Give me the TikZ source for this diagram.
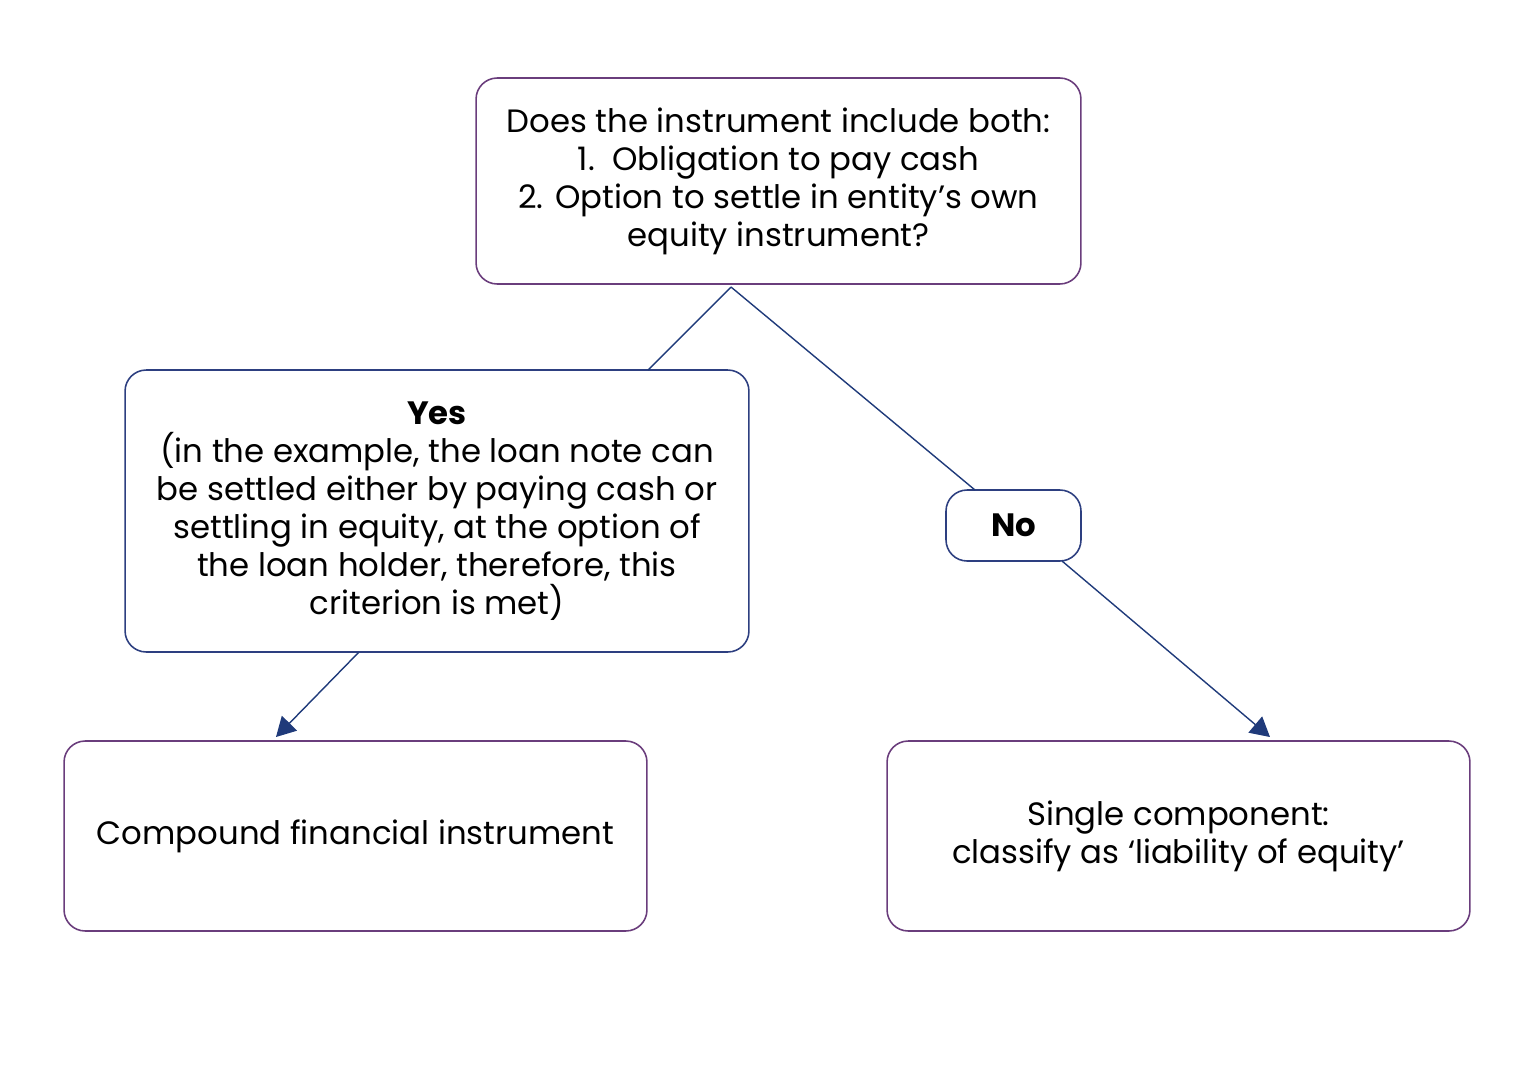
\documentclass[tikz,border=0pt]{standalone}
\usepackage{fontspec}
\setmainfont{Poppins}
\usetikzlibrary{arrows.meta,positioning}
\definecolor{boxpurple}{HTML}{6A3D7C}
\definecolor{boxblue}{HTML}{2D3F80}
\definecolor{arrowblue}{HTML}{1F3A7A}
\tikzset{
    decision/.style={draw=boxpurple, rounded corners=12pt, line width=0.9pt, align=center,
        font=\fontsize{18.4pt}{21.6pt}\selectfont, inner sep=0pt},
    answer/.style={decision, draw=boxblue},
    link/.style={draw=arrowblue, line width=0.8pt},
    flow/.style={link, -{Triangle[length=11pt,width=12pt]}}
}
\begin{document}
\begin{tikzpicture}[x=0.02cm, y=-0.02cm]
    \useasboundingbox (0,0) rectangle (1536,1086);
    \node[decision, minimum width=12.1cm, minimum height=4.12cm] (question) at (778.5,181)
        {Does the instrument include both:\\1.\ \ Obligation to pay cash\\2. Option to settle in entity’s own\\equity instrument?};
    \node[answer, minimum width=12.48cm, minimum height=5.64cm] (yes) at (437,511)
        {\textbf{Yes}\\(in the example, the loan note can\\be settled either by paying cash or\\settling in equity, at the option of\\the loan holder, therefore, this\\criterion is met)};
    \node[answer, minimum width=2.7cm, minimum height=1.42cm] (no) at (1013.5,525.5) {\textbf{No}};
    \node[decision, minimum width=11.66cm, minimum height=3.8cm] (compound) at (355.5,836)
        {Compound financial instrument};
    \node[decision, minimum width=11.66cm, minimum height=3.8cm] (single) at (1178.5,836)
        {Single component:\\classify as ‘liability of equity’};
    \coordinate (split) at (731,287);
    \draw[link] (split) -- (648,370);
    \draw[link] (split) -- (975,490);
    \draw[flow] (359,652) -- (276,737);
    \draw[flow] (1062,561) -- (1270,737);
\end{tikzpicture}
\end{document}
